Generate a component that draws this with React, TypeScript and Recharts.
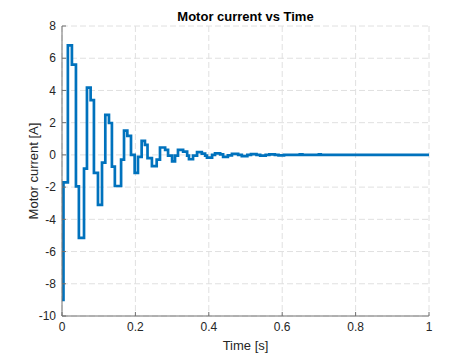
import { LineChart, Line, XAxis, YAxis, CartesianGrid } from "recharts"

// sample instants [s] and motor current [A] (held until the next sample)
const time = [
  0, 0.004, 0.016, 0.027, 0.038, 0.046, 0.06, 0.068, 0.078, 0.087, 0.098, 0.109,
  0.118, 0.128, 0.136, 0.144, 0.161, 0.169, 0.178, 0.188, 0.198, 0.207, 0.217,
  0.226, 0.233, 0.245, 0.258, 0.267, 0.281, 0.289, 0.3, 0.308, 0.316, 0.33,
  0.341, 0.346, 0.357, 0.368, 0.381, 0.39, 0.395, 0.409, 0.417, 0.431, 0.439,
  0.452, 0.463, 0.48, 0.49, 0.505, 0.515, 0.53, 0.54, 0.555, 0.565, 0.58, 0.59,
  0.605, 0.648, 0.655, 0.7, 0.705, 1,
]
const current = [
  -9.0, -1.7, 6.8, 5.6, -1.95, -5.15, -0.85, 4.18, 3.4, -1.12, -3.1, -0.48,
  2.48, 1.98, -0.73, -1.93, -0.3, 1.51, 1.18, 0.0, -1.12, -0.12, 0.87,
  0.62, -0.2, -0.7, -0.3, 0.46, 0.31, -0.05, -0.4, -0.05, 0.31, 0.2,
  -0.05, -0.27, -0.05, 0.17, 0.08, -0.05, -0.17, 0.0, 0.1, 0.03, -0.12,
  -0.03, 0.06, 0.0, -0.08, 0.0, 0.05, 0.0, -0.05, 0.0, 0.03, 0.0, -0.03,
  0.0, 0.03, 0.0, 0.03, 0.0, 0.0,
]

const xTicks = [0, 0.2, 0.4, 0.6, 0.8, 1]
const yTicks = [-10, -8, -6, -4, -2, 0, 2, 4, 6, 8]

const data = time.map((t, i) => ({ t, i: current[i] }))

const font = "'Liberation Sans', Arial, Helvetica, sans-serif"
const axisColor = "#707070"
const textColor = "#262626"

export default function App() {
  return (
    <div style={{ position: "absolute", left: 0, top: 0, width: 474, height: 355, background: "#fff" }}>
      <div
        style={{
          position: "absolute",
          left: 62,
          width: 367,
          top: 9,
          textAlign: "center",
          fontFamily: font,
          fontWeight: "bold",
          fontSize: 13,
          color: "#000",
        }}
      >
        Motor current vs Time
      </div>
      <LineChart
        width={474}
        height={355}
        data={data}
        margin={{ top: 26, right: 45, bottom: 0, left: 0 }}
        style={{ fontFamily: font }}
      >
        <CartesianGrid stroke="#e0e0e0" strokeDasharray="6 3" />
        <XAxis
          dataKey="t"
          type="number"
          domain={[0, 1]}
          ticks={xTicks}
          height={39}
          tickSize={-4}
          tickMargin={10}
          stroke={axisColor}
          tick={{ fill: textColor, fontSize: 12 }}
          label={{ value: "Time [s]", position: "insideBottom", offset: 5, fill: textColor, fontSize: 13 }}
        />
        <XAxis
          xAxisId="top"
          orientation="top"
          dataKey="t"
          type="number"
          domain={[0, 1]}
          ticks={xTicks}
          height={0}
          tickSize={-4}
          stroke={axisColor}
          tickFormatter={() => ""}
        />
        <YAxis
          type="number"
          domain={[-10, 8]}
          ticks={yTicks}
          width={62}
          tickSize={-4}
          tickMargin={10}
          stroke={axisColor}
          tick={{ fill: textColor, fontSize: 12 }}
          label={{
            value: "Motor current [A]",
            angle: -90,
            position: "insideLeft",
            offset: 33,
            fill: textColor,
            fontSize: 13,
            style: { textAnchor: "middle" },
          }}
        />
        <YAxis
          yAxisId="right"
          orientation="right"
          type="number"
          domain={[-10, 8]}
          ticks={yTicks}
          width={0}
          tickSize={-4}
          stroke={axisColor}
          tickFormatter={() => ""}
        />
        <Line
          dataKey="i"
          type="stepAfter"
          stroke="#0072BD"
          strokeWidth={2.7}
          dot={false}
          isAnimationActive={false}
        />
      </LineChart>
    </div>
  )
}
